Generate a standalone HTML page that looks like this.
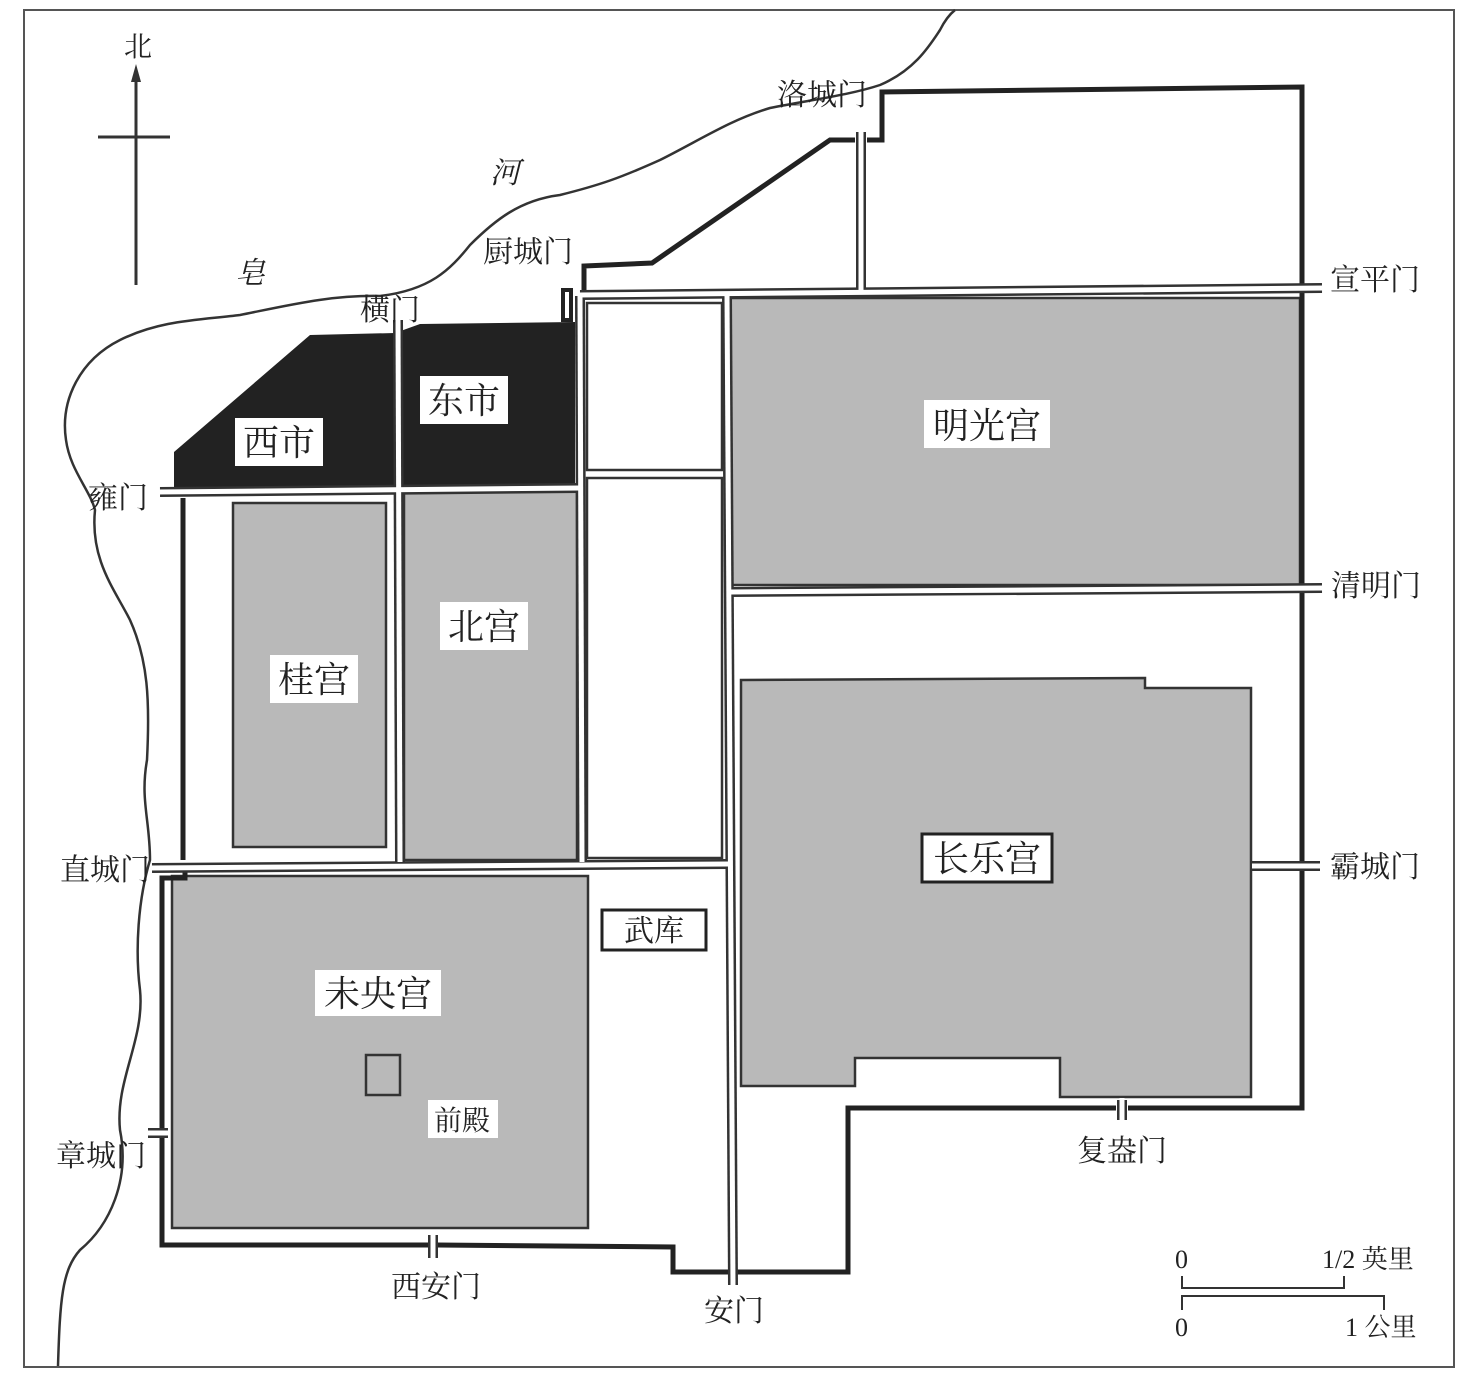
<!DOCTYPE html>
<html><head><meta charset="utf-8">
<style>
html,body{margin:0;padding:0;background:#fff;}
svg{display:block}
text{font-family:"Liberation Serif","Noto Serif CJK SC","Noto Sans CJK SC",serif;fill:#222;}
</style></head><body>
<svg width="1472" height="1400" viewBox="0 0 1472 1400" xmlns="http://www.w3.org/2000/svg">
<rect x="0" y="0" width="1472" height="1400" fill="#fff"/>
<rect x="24" y="10" width="1430" height="1357" fill="none" stroke="#555" stroke-width="2"/>

<!-- river -->
<path d="M58,1366 C60,1300 62,1270 80,1250 C110,1225 130,1180 120,1130 C115,1080 145,1040 140,990 C135,950 138,900 150,860 C150,820 140,800 147,760 C150,700 148,660 130,620 C115,590 90,560 95,510 C90,490 70,470 66,440 C60,400 80,360 120,340 C160,320 200,320 240,315 C290,305 330,295 380,296 C430,290 450,270 470,245 C495,220 520,200 560,195 C600,185 620,178 660,160 C700,140 730,120 770,108 C810,100 850,95 880,85 C915,70 930,45 940,30 C945,20 950,14 955,10" fill="none" stroke="#333" stroke-width="2.5"/>

<!-- markets black -->
<polygon points="174,452 310,335 395,333 420,324 575,322 575,486 174,490" fill="#222"/>

<!-- gray blocks -->
<g fill="#b9b9b9" stroke="#333" stroke-width="2.5">
<rect x="730" y="298" width="570" height="287"/>
<rect x="233" y="503" width="153" height="344"/>
<rect x="404" y="486" width="173" height="374"/>
<rect x="172" y="876" width="416" height="352"/>
<polygon points="741,680 1145,678 1145,688 1251,688 1251,1097 1060,1097 1060,1058 855,1058 855,1086 741,1086"/>
</g>
<g fill="#fff" stroke="#333" stroke-width="2.5">
<rect x="587" y="303" width="135" height="167"/>
<rect x="587" y="478" width="135" height="380"/>
<rect x="366" y="1055" width="34" height="40" fill="none"/>
</g>

<!-- city wall -->
<g fill="none" stroke="#222" stroke-width="5" stroke-linejoin="miter">
<polyline points="584,292 584,266 652,263 830,140 855,140"/>
<polyline points="867,140 882,140 882,92 1302,87 1302,1108 1128,1108"/>
<polyline points="1116,1108 848,1108 848,1272 673,1272 673,1247 437,1245"/>
<polyline points="429,1245 162,1245 162,1138"/>
<polyline points="162,1128 162,878 185,878 185,870"/>
<polyline points="183,860 183,498"/>
<rect x="563" y="290" width="8" height="30" stroke-width="4"/>
</g>

<!-- roads -->
<g fill="none" stroke="#333" stroke-width="10">
<line x1="160" y1="492" x2="580" y2="488"/>
<line x1="398" y1="320" x2="400" y2="862"/>
<line x1="580" y1="296" x2="582" y2="862"/>
<line x1="580" y1="295" x2="1322" y2="288"/>
<line x1="861" y1="132" x2="861" y2="292"/>
<line x1="727" y1="296" x2="733" y2="1285"/>
<line x1="152" y1="868" x2="728" y2="864"/>
<line x1="730" y1="592" x2="1322" y2="588"/>
<line x1="1252" y1="866" x2="1320" y2="866"/>
<line x1="1122" y1="1100" x2="1122" y2="1120"/>
<line x1="433" y1="1235" x2="433" y2="1258"/>
<line x1="148" y1="1133" x2="168" y2="1133"/>
</g>
<g fill="none" stroke="#fff" stroke-width="5">
<line x1="158" y1="492" x2="580" y2="488"/>
<line x1="398" y1="318" x2="400" y2="862"/>
<line x1="580" y1="294" x2="582" y2="862"/>
<line x1="578" y1="295" x2="1324" y2="288"/>
<line x1="861" y1="130" x2="861" y2="292"/>
<line x1="727" y1="294" x2="733" y2="1287"/>
<line x1="150" y1="868" x2="728" y2="864"/>
<line x1="730" y1="592" x2="1324" y2="588"/>
<line x1="1252" y1="866" x2="1322" y2="866"/>
<line x1="1122" y1="1098" x2="1122" y2="1122"/>
<line x1="433" y1="1233" x2="433" y2="1260"/>
<line x1="146" y1="1133" x2="170" y2="1133"/>
</g>

<!-- compass -->
<line x1="136" y1="285" x2="136" y2="70" stroke="#333" stroke-width="3"/>
<polygon points="136,64 131,82 141,82" fill="#333"/>
<line x1="98" y1="137" x2="170" y2="137" stroke="#333" stroke-width="3"/>
<text x="138" y="56" font-size="28" text-anchor="middle">北</text>

<!-- river labels -->
<text x="250" y="283" font-size="30" text-anchor="middle" font-style="italic">皂</text>
<text x="505" y="183" font-size="30" text-anchor="middle" font-style="italic">河</text>

<!-- labeled boxes -->
<g fill="#fff">
<rect x="235" y="418" width="88" height="48"/>
<rect x="420" y="376" width="88" height="48"/>
<rect x="924" y="400" width="126" height="48"/>
<rect x="440" y="602" width="88" height="48"/>
<rect x="270" y="655" width="88" height="48"/>
<rect x="315" y="970" width="126" height="46"/>
<rect x="428" y="1100" width="70" height="38"/>
<rect x="922" y="834" width="130" height="48" stroke="#222" stroke-width="3"/>
<rect x="602" y="910" width="104" height="40" stroke="#222" stroke-width="3"/>
</g>
<g font-size="36" text-anchor="middle">
<text x="279" y="455">西市</text>
<text x="464" y="413">东市</text>
<text x="987" y="438">明光宫</text>
<text x="484" y="639">北宫</text>
<text x="314" y="692">桂宫</text>
<text x="378" y="1006">未央宫</text>
<text x="987" y="871">长乐宫</text>
</g>
<text x="462" y="1130" font-size="28" text-anchor="middle">前殿</text>
<text x="654" y="941" font-size="30" text-anchor="middle">武库</text>

<!-- gate labels -->
<g font-size="30" text-anchor="middle">
<text x="822" y="105">洛城门</text>
<text x="528" y="262">厨城门</text>
<text x="390" y="320">横门</text>
<text x="1375" y="290">宣平门</text>
<text x="118" y="508">雍门</text>
<text x="1376" y="596">清明门</text>
<text x="105" y="880">直城门</text>
<text x="1375" y="877">霸城门</text>
<text x="101" y="1166">章城门</text>
<text x="1122" y="1161">复盎门</text>
<text x="436" y="1297">西安门</text>
<text x="734" y="1321">安门</text>
</g>

<!-- scale -->
<g stroke="#333" stroke-width="2" fill="none">
<polyline points="1182,1276 1182,1288 1344,1288 1344,1276"/>
<polyline points="1182,1310 1182,1296 1384,1296 1384,1310"/>
</g>
<g font-size="26">
<text x="1175" y="1268">0</text>
<text x="1322" y="1268">1/2 英里</text>
<text x="1175" y="1336">0</text>
<text x="1345" y="1336">1 公里</text>
</g>
</svg>
</body></html>
